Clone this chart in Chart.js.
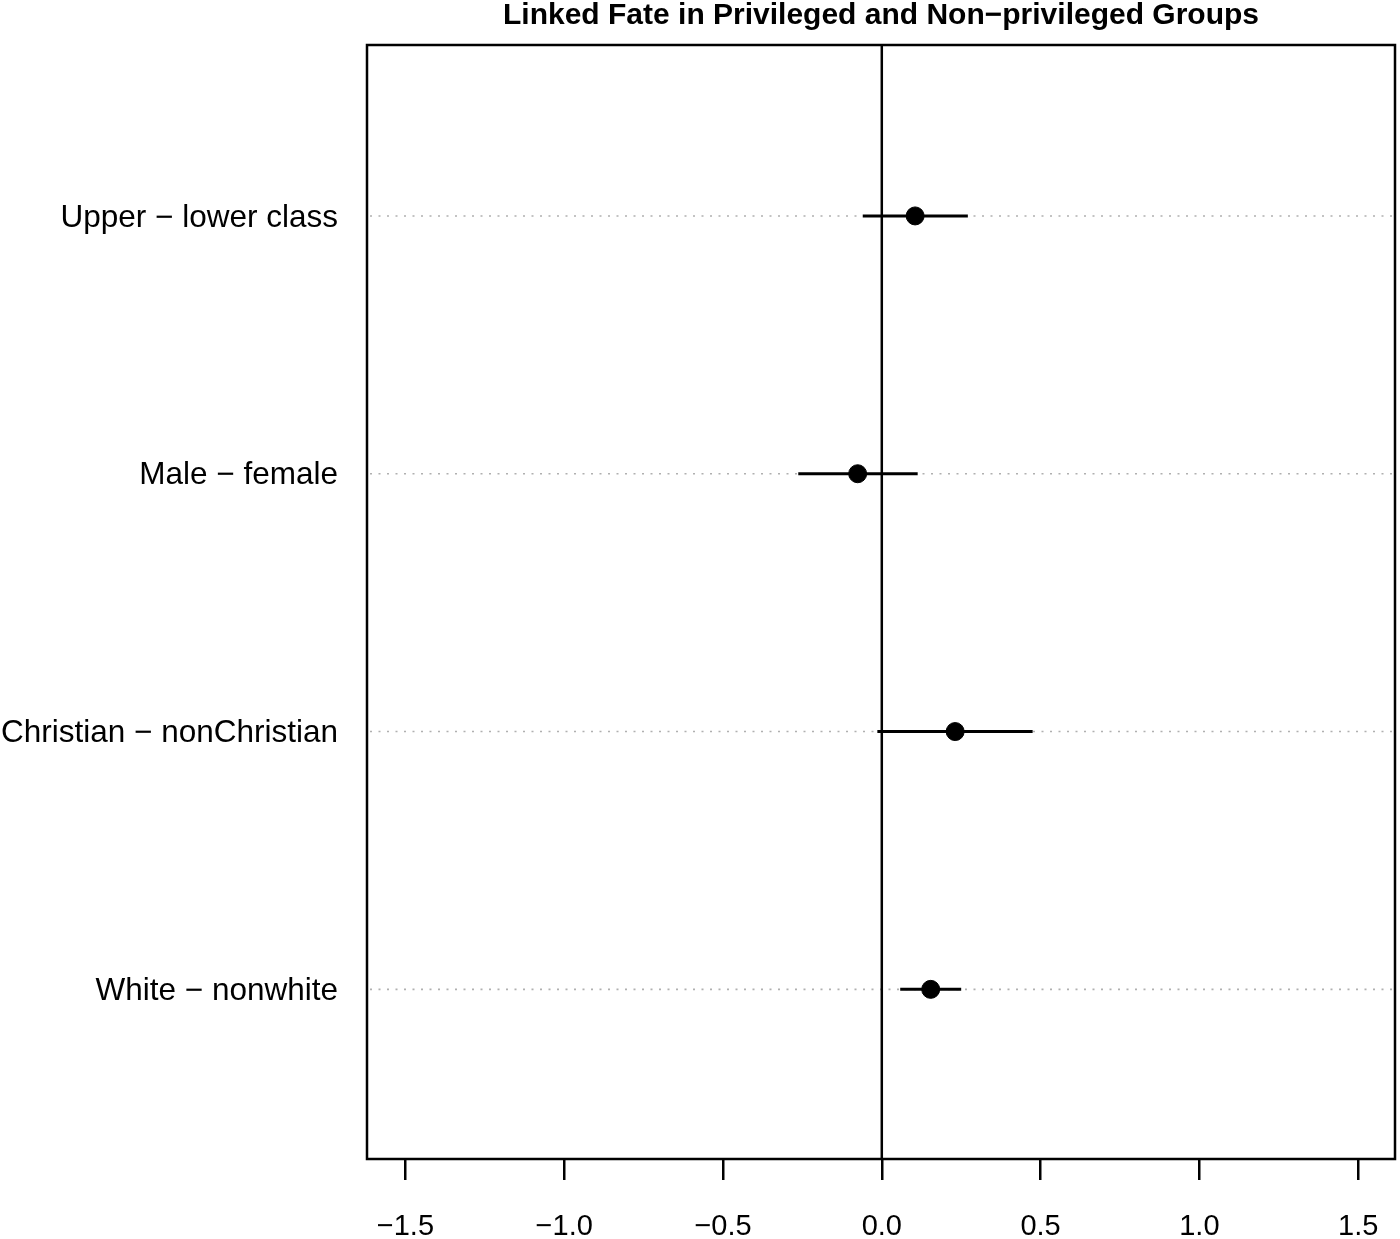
<!DOCTYPE html>
<html>
<head>
<meta charset="utf-8">
<script src="https://cdn.jsdelivr.net/npm/chart.js@4.4.1/dist/chart.umd.min.js"></script>
<style>
  html, body { margin: 0; padding: 0; background: #ffffff; }
  #wrap { width: 1400px; height: 1239px; }
</style>
</head>
<body>
<div id="wrap"><canvas id="c" width="1400" height="1239"></canvas></div>
<script>
// ---- data (top to bottom) ----
const chartTitle = "Linked Fate in Privileged and Non\u2212privileged Groups";
const categories = ["Upper \u2212 lower class", "Male \u2212 female", "Christian \u2212 nonChristian", "White \u2212 nonwhite"];
const estimates = [0.105, -0.076, 0.231, 0.154];
const lowerCI  = [-0.060, -0.263, -0.014, 0.058];
const upperCI  = [0.271, 0.113, 0.475, 0.250];
const xTickValues = [-1.5, -1.0, -0.5, 0.0, 0.5, 1.0, 1.5];
const xMin = -1.621, xMax = 1.616;
const yMin = 0.342, yMax = 4.663;

const FONT = "'Liberation Sans', Arial, Helvetica, sans-serif";
const n = categories.length;
const rowY = categories.map((_, i) => n - i); // 4,3,2,1

const datasets = [];
// zero reference line
datasets.push({
  type: 'line', data: [{x: 0, y: yMin}, {x: 0, y: yMax}],
  borderColor: '#000', borderWidth: 2.5, pointRadius: 0, order: 3
});
// confidence interval lines
categories.forEach((c, i) => {
  datasets.push({
    type: 'line', data: [{x: lowerCI[i], y: rowY[i]}, {x: upperCI[i], y: rowY[i]}],
    borderColor: '#000', borderWidth: 3, pointRadius: 0, order: 2
  });
});
// point estimates
datasets.push({
  type: 'scatter',
  data: categories.map((c, i) => ({x: estimates[i], y: rowY[i]})),
  backgroundColor: '#000', borderColor: '#000', pointRadius: 9, pointHoverRadius: 9, order: 1
});

const boxPlugin = {
  id: 'boxAndTitle',
  beforeDatasetsDraw(chart) {
    const {ctx, chartArea: a, scales} = chart;
    ctx.save();
    ctx.strokeStyle = '#b0b0b0';
    ctx.lineWidth = 1.6;
    ctx.setLineDash([2, 6.5]);
    rowY.forEach(v => {
      const y = scales.y.getPixelForValue(v);
      ctx.beginPath();
      ctx.moveTo(a.left + 3, y);
      ctx.lineTo(a.right, y);
      ctx.stroke();
    });
    ctx.restore();
  },
  afterDraw(chart) {
    const {ctx, chartArea: a} = chart;
    ctx.save();
    ctx.strokeStyle = '#000';
    ctx.lineWidth = 2.5;
    ctx.strokeRect(a.left, a.top, a.right - a.left, a.bottom - a.top);
    ctx.fillStyle = '#000';
    ctx.font = "bold 30px " + FONT;
    ctx.textAlign = 'center';
    ctx.textBaseline = 'alphabetic';
    ctx.fillText(chartTitle, (a.left + a.right) / 2, 24);
    ctx.restore();
  }
};

new Chart(document.getElementById('c'), {
  type: 'scatter',
  data: { datasets },
  options: {
    responsive: false,
    devicePixelRatio: 1,
    animation: false,
    layout: { autoPadding: false, padding: { top: 45, right: 5, bottom: 0, left: 0 } },
    plugins: { legend: { display: false }, tooltip: { enabled: false }, title: { display: false } },
    scales: {
      x: {
        type: 'linear', min: xMin, max: xMax,
        border: { display: false },
        grid: { drawOnChartArea: false, drawTicks: true, tickLength: 21, color: '#000', lineWidth: 2.5 },
        ticks: {
          color: '#000', padding: 30, maxRotation: 0,
          font: { family: FONT, size: 29 },
          callback: v => (v < 0 ? '\u2212' : '') + Math.abs(v).toFixed(1)
        },
        afterBuildTicks: s => { s.ticks = xTickValues.map(v => ({value: v})); },
        afterFit: s => { s.height = 80; s.paddingLeft = 0; s.paddingRight = 0; }
      },
      y: {
        type: 'linear', min: yMin, max: yMax,
        border: { display: false },
        grid: { display: false, drawTicks: false },
        ticks: {
          color: '#000', padding: 29, labelOffset: 2,
          font: { family: FONT, size: 31.5 },
          callback: v => { const i = rowY.indexOf(v); return i >= 0 ? categories[i] : ''; }
        },
        afterBuildTicks: s => { s.ticks = rowY.map(v => ({value: v})); },
        afterFit: s => { s.width = 367; s.paddingTop = 0; s.paddingBottom = 0; }
      }
    }
  },
  plugins: [boxPlugin]
});
</script>
</body>
</html>
